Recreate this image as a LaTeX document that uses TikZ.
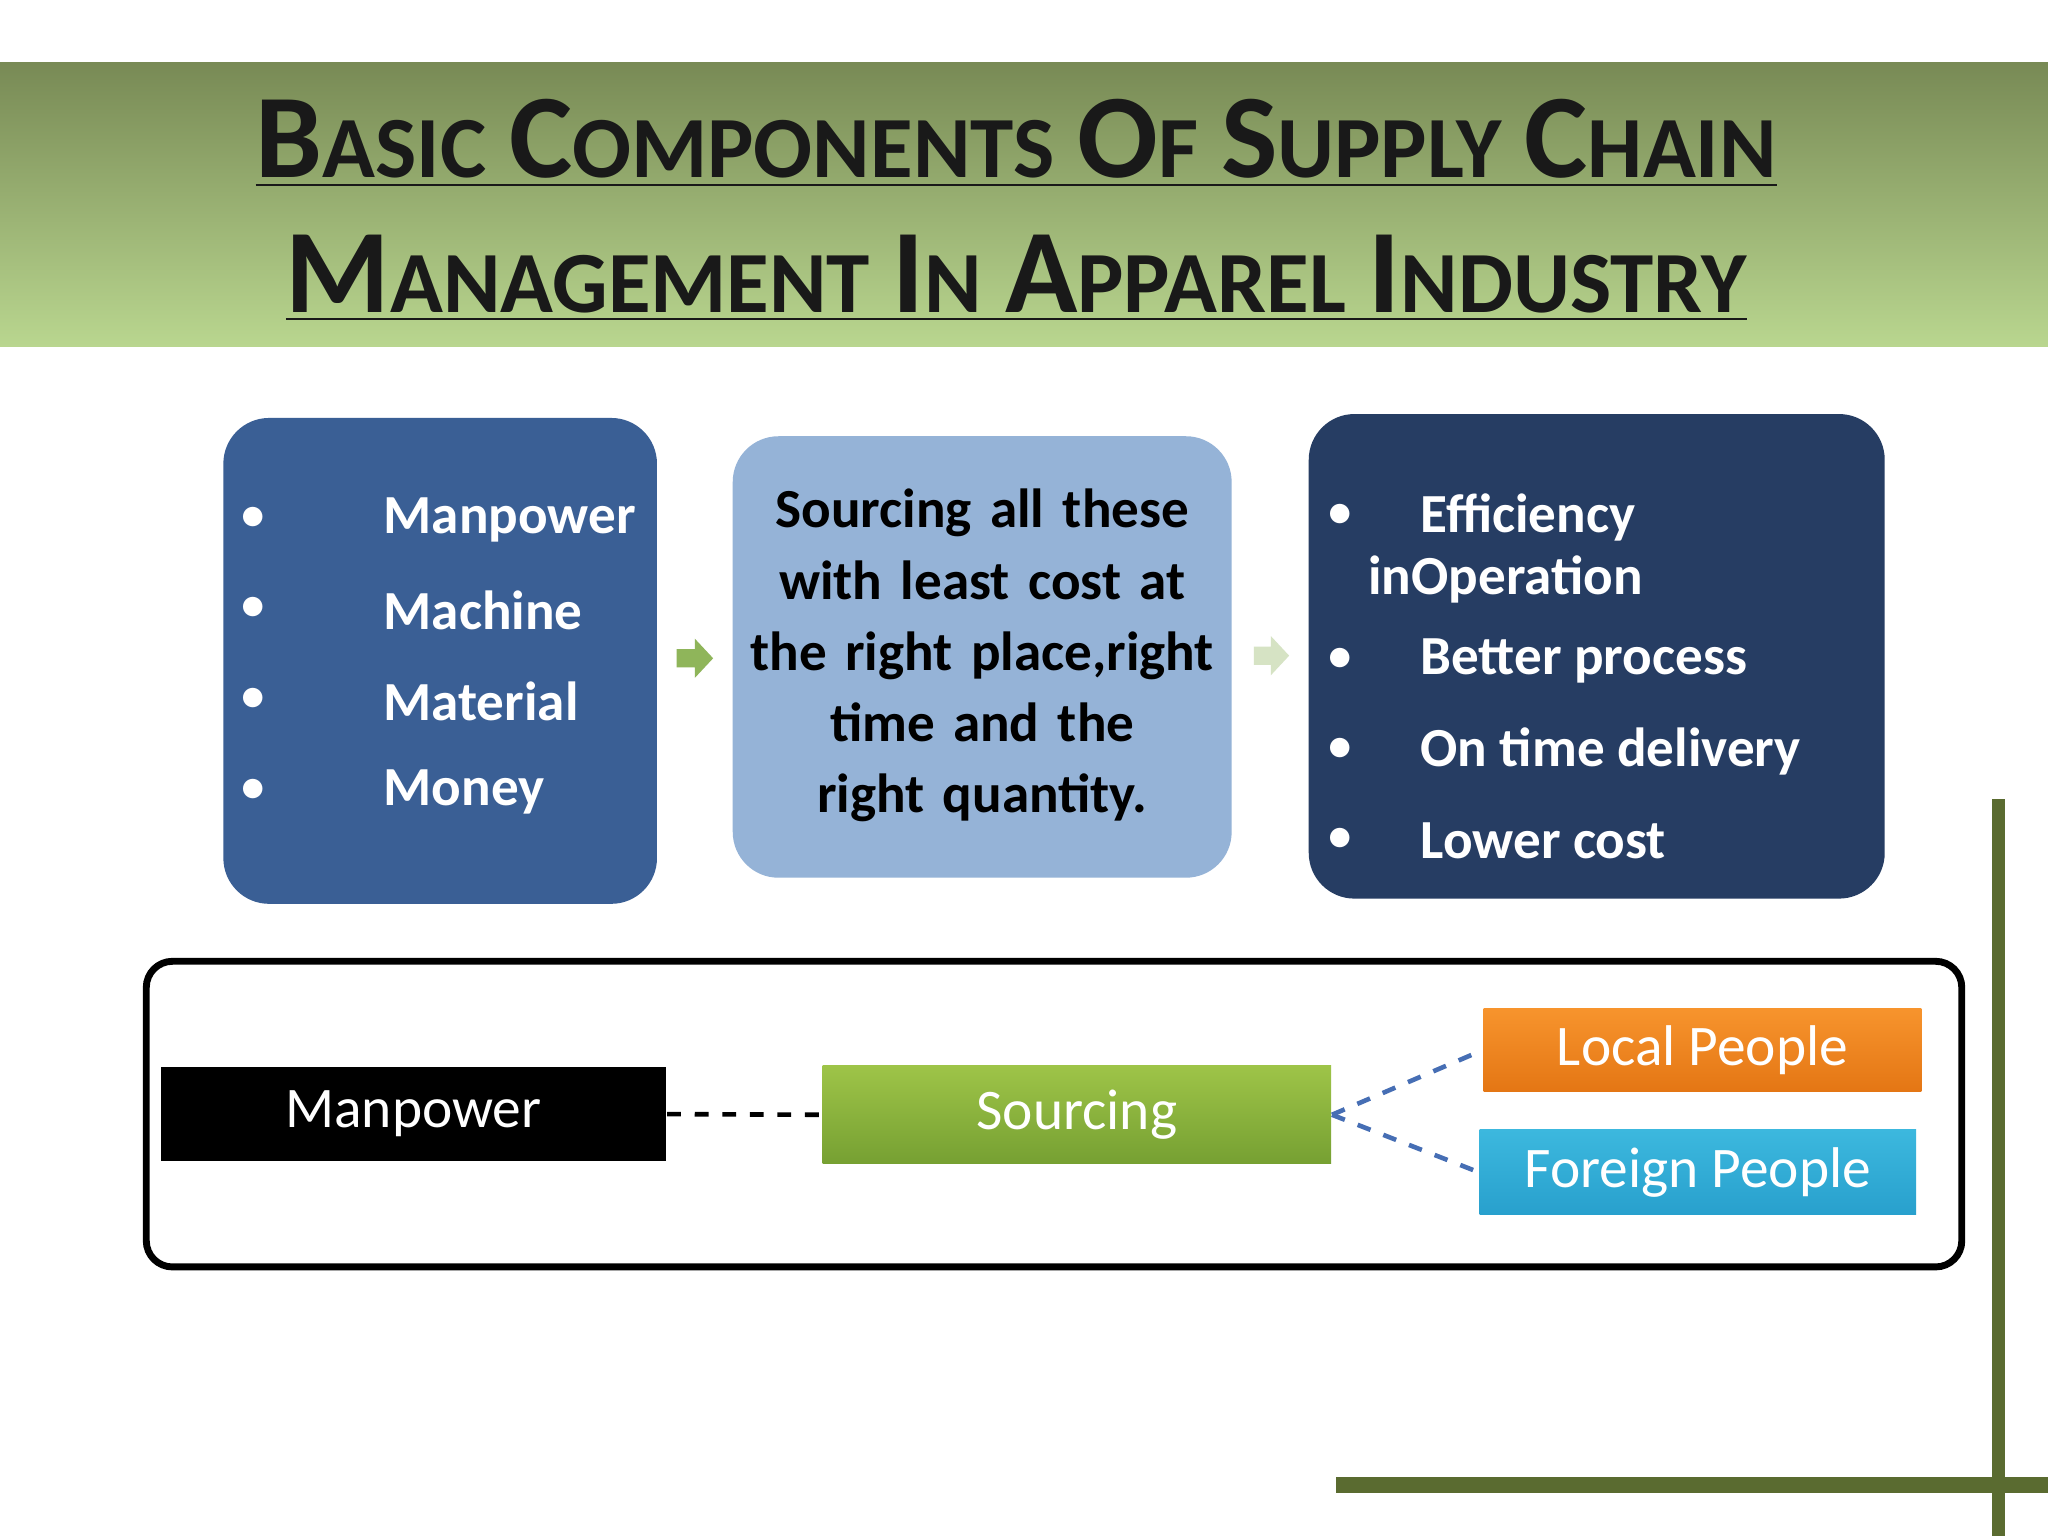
\documentclass[tikz,border=0pt]{standalone}
\usepackage{fontspec}
\setmainfont{Carlito}
\definecolor{hdtop}{RGB}{120,138,85}
\definecolor{hdbot}{RGB}{185,214,143}
\definecolor{ttl}{RGB}{25,25,25}
\definecolor{bA}{RGB}{58,95,149}
\definecolor{bB}{RGB}{149,179,215}
\definecolor{bC}{RGB}{38,61,99}
\definecolor{arA}{RGB}{143,181,90}
\definecolor{arB}{RGB}{214,227,196}
\definecolor{gT}{RGB}{158,196,72}
\definecolor{gB}{RGB}{118,160,50}
\definecolor{oT}{RGB}{247,148,45}
\definecolor{oB}{RGB}{228,118,20}
\definecolor{cT}{RGB}{60,184,222}
\definecolor{cB}{RGB}{40,160,205}
\definecolor{dsh}{RGB}{70,110,180}
\definecolor{olv}{RGB}{90,107,48}
\begin{document}
\begin{tikzpicture}[x=0.01cm,y=-0.01cm,
 rbox/.style={rounded corners=0.35cm,draw=none},
 wtxt/.style={text=white,font=\bfseries\fontsize{12}{14}\selectfont,anchor=west,inner sep=0},
 bul/.style={text=white,font=\fontsize{12}{14}\selectfont,inner sep=0},
 flat/.style={inner sep=0,font=\fontsize{12.5}{14}\selectfont,text=white},
 sc/.style={font=\bfseries\fontsize{22}{24}\selectfont,text=ttl}]
\useasboundingbox (0,0) rectangle (1568,1176);
\fill[white] (0,0) rectangle (1568,1176);
\shade[top color=hdtop,bottom color=hdbot] (0,48) rectangle (1568,265);
\newcommand{\SC}[2]{{\fontsize{26}{28}\selectfont #1}{\fontsize{19}{21}\selectfont #2}}
\node[sc] (t1) at (778,110) {\underline{\SC{B}{ASIC} \SC{C}{OMPONENTS} \SC{O}{F} \SC{S}{UPPLY} \SC{C}{HAIN}}};
\node[sc] (t2) at (778,213) {\underline{\SC{M}{ANAGEMENT} \SC{I}{N} \SC{A}{PPAREL} \SC{I}{NDUSTRY}}};
% box1
\fill[rbox,bA] (171,320) rectangle (503,692);
\foreach \y/\t in {398/Manpower,467/Machine,537/Material,606/Money}{
 \node[bul] at (194,\y) {•}; \node[wtxt] at (293,\y) {\t};}
% arrow1
\fill[arA] (518,497) -- (532,497) -- (532,489) -- (546,504) -- (532,519) -- (532,511) -- (518,511) -- cycle;
% box2
\fill[rbox,bB] (561,334) rectangle (943,672);
\node[font=\bfseries\fontsize{12}{15.5}\selectfont,align=center,text width=3.6cm] (b2) at (752,502) {Sourcing all these with least cost at the right place,right time and the right quantity.};
\fill[arB] (960,495) -- (973,495) -- (973,487) -- (987,502) -- (973,517) -- (973,509) -- (960,509) -- cycle;
% box3
\fill[rbox,bC] (1002,317) rectangle (1443,688);
\foreach \y in {396,506,575,644}{\node[bul] at (1026,\y) {•};}
\node[wtxt] at (1087,396) {Efficiency};
\node[wtxt] at (1047,444) {inOperation};
\node[wtxt] at (1087,506) {Better process};
\node[wtxt] at (1087,575) {On time delivery};
\node[wtxt] at (1087,644) {Lower cost};
% lower frame
\draw[line width=1.5pt,rounded corners=0.2cm] (112,736) rectangle (1502,970);
\node[flat,fill=black,minimum width=3.87cm,minimum height=0.72cm] (mp) at (316.5,853) {Manpower};
\node[flat,top color=gT,bottom color=gB,minimum width=3.89cm,minimum height=0.75cm] (so) at (824.5,853.5) {Sourcing};
\node[flat,top color=oT,bottom color=oB,minimum width=3.35cm,minimum height=0.64cm] (lp) at (1303.5,804) {Local People};
\node[flat,top color=cT,bottom color=cB,minimum width=3.34cm,minimum height=0.65cm] (fp) at (1300,897.5) {Foreign People};
\draw[dashed,line width=1pt] (mp.east) -- (so.west);
\draw[dashed,line width=1pt,dsh] (so.east) -- (lp.west);
\draw[dashed,line width=1pt,dsh] (so.east) -- (fp.west);
% olive lines
\fill[olv] (1525,612) rectangle (1535,1176);
\fill[olv] (1023,1131) rectangle (1568,1143);
\end{tikzpicture}
\end{document}
